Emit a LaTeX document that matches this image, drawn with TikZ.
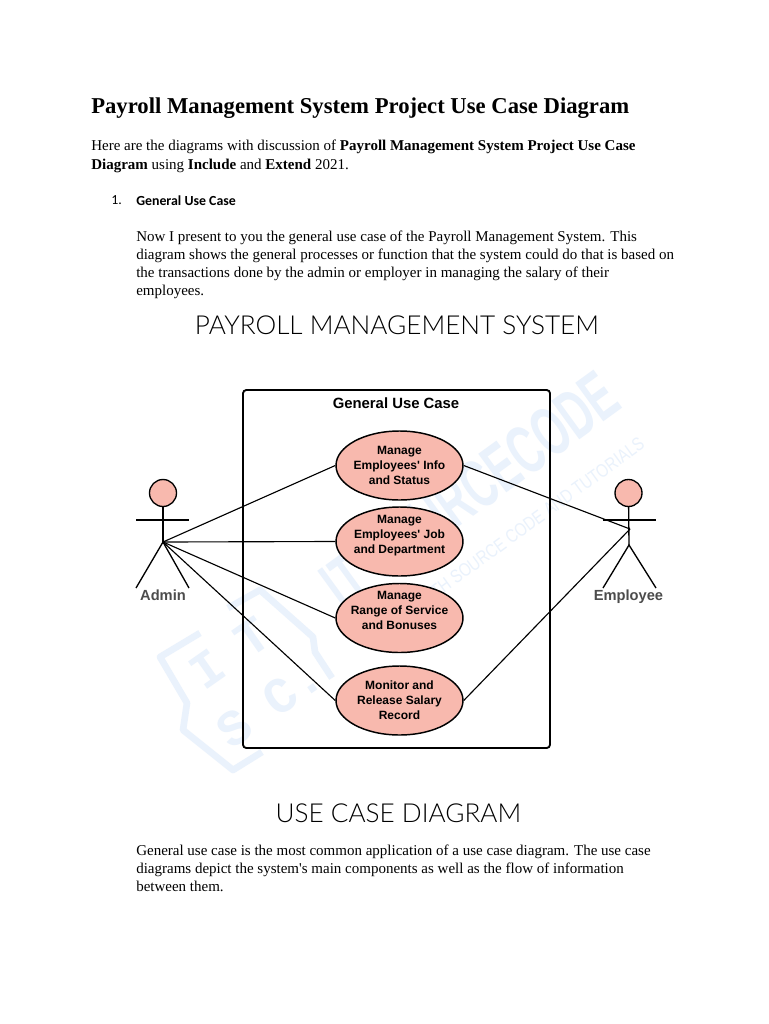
\documentclass[tikz,border=0pt]{standalone}
\usepackage{fontspec}
\setmainfont{Liberation Serif}
\setsansfont{Liberation Sans}
\setmonofont{Liberation Mono}
\newfontfamily\calibrifont{Carlito}
\newfontfamily\thinfont{Lato Light}
\usetikzlibrary{shapes.geometric}
\definecolor{peach}{HTML}{F8B9AE}
\definecolor{wmark}{HTML}{EAF2FC}
\newlength{\upx}
\setlength{\upx}{0.75pt}
\tikzset{
  usecase/.style={ellipse,draw,line width=1.1pt,fill=peach,minimum width=127\upx,minimum height=69\upx,inner xsep=-5pt,inner ysep=-8pt,align=center,font=\sffamily\bfseries\fontsize{9}{11.2}\selectfont},
  para/.style={anchor=north west,inner sep=0pt,align=left,font=\fontsize{11.25}{13.5}\selectfont},
  actorlabel/.style={font=\sffamily\bfseries\fontsize{11}{12}\selectfont,text=black!70},
  actorline/.style={line width=1pt},
  link/.style={line width=0.85pt},
  bigtitle/.style={font=\thinfont\fontsize{19.6}{24}\selectfont},
  wmarktext/.style={text=wmark,inner sep=0pt},
  wmarkline/.style={draw=wmark,line width=5pt,line join=round},
  wmarklogo/.style={wmarktext,rotate=35,font=\ttfamily\bfseries\fontsize{38}{38}\selectfont},
}
\begin{document}
\begin{tikzpicture}[x=0.75pt,y=-0.75pt]
  \useasboundingbox (0,0) rectangle (768,1024);
  \fill[white] (0,0) rectangle (768,1024);
  % watermark
  \node[wmarktext,rotate=36,xscale=.6,font=\sffamily\bfseries\fontsize{52}{52}\selectfont] (wmarka) at (470,490) {IT SOURCECODE};
  \node[wmarktext,rotate=36,xscale=.8,font=\sffamily\fontsize{14}{14}\selectfont] (wmarkb) at (530,523) {WITH SOURCE CODE AND TUTORIALS};
  \node[wmarklogo] (wmarkc) at (230,653) {I\hspace{19pt}T};
  \node[wmarklogo] (wmarkd) at (270,703) {S\hspace{19pt}C.};
  \draw[wmarkline] (200,633) -- (160,657) -- (187,703) -- (183,730) -- (233,770) -- (262,752);
  \draw[wmarkline] (228,608) -- (260,590) -- (313,637) -- (315,652) -- (332,678);
  % page text
  \node[para,font=\bfseries\fontsize{17}{20}\selectfont] (title) at (91,98) {Payroll Management System Project Use Case Diagram};
  \node[para,font=\fontsize{11.25}{14.25}\selectfont] (intro) at (91,140) {Here are the diagrams with discussion of \textbf{Payroll Management System Project Use Case}\\\textbf{Diagram} using \textbf{Include} and \textbf{Extend} 2021.};
  \node[para,font=\calibrifont\fontsize{10.4}{12}\selectfont] (num) at (111,195.5) {1.};
  \node[para,font=\calibrifont\bfseries\fontsize{10.4}{12}\selectfont] (head) at (136,195.5) {General Use Case};
  \node[para] (para1) at (136,231) {Now I present to you the general use case of the Payroll Management System. This\\diagram shows the general processes or function that the system could do that is based on\\the transactions done by the admin or employer in managing the salary of their\\employees.};
  \node[bigtitle] (systitle) at (397,325) {PAYROLL MANAGEMENT SYSTEM};
  \node[bigtitle] (diagtitle) at (398.5,813) {USE CASE DIAGRAM};
  \node[para] (para2) at (136,845) {General use case is the most common application of a use case diagram. The use case\\diagrams depict the system\textquotesingle s main components as well as the flow of information\\between them.};
  % system box
  \draw[line width=1.4pt,rounded corners=2.5pt] (243,390) rectangle (550,748);
  \node[font=\sffamily\bfseries\fontsize{11.15}{12}\selectfont] (boxtitle) at (396,403) {General Use Case};
  % use cases
  \node[usecase] (info) at (399.5,465.5) {Manage\\Employees\textquotesingle{} Info\\and Status};
  \node[usecase] (job) at (399.5,541.5) {Manage\\Employees\textquotesingle{} Job\\and Department\\\mbox{}};
  \node[usecase] (range) at (399.5,618) {Manage\\Range of Service\\and Bonuses\\\mbox{}};
  \node[usecase] (salary) at (399.5,700.5) {Monitor and\\Release Salary\\Record};
  % admin
  \node[circle,draw,actorline,fill=peach,minimum size=27\upx,inner sep=0pt] (adminhead) at (163,493) {};
  \coordinate (adminhip) at (163,542);
  \coordinate (adminl) at (136,520);
  \coordinate (adminr) at (189,520);
  \coordinate (adminfl) at (136,588);
  \coordinate (adminfr) at (189,588);
  \draw[actorline] (adminhead) -- (adminhip);
  \draw[actorline] (adminl) -- (adminr);
  \draw[actorline] (adminfl) -- (adminhip) -- (adminfr);
  \node[actorlabel] (adminlabel) at (163,595) {Admin};
  % employee
  \node[circle,draw,actorline,fill=peach,minimum size=27\upx,inner sep=0pt] (emphead) at (628.5,493) {};
  \coordinate (emphip) at (629,545);
  \coordinate (empjoin) at (630,529);
  \coordinate (empl) at (603,520);
  \coordinate (empr) at (656,520);
  \coordinate (empfl) at (603,588);
  \coordinate (empfr) at (656,588);
  \draw[actorline] (emphead) -- (emphip);
  \draw[actorline] (empl) -- (empr);
  \draw[actorline] (empfl) -- (emphip) -- (empfr);
  \node[actorlabel] (emplabel) at (628.5,597) {Employee};
  % links
  \draw[link] (adminhip) -- (info.west);
  \draw[link] (adminhip) -- (job.west);
  \draw[link] (adminhip) -- (range.west);
  \draw[link] (adminhip) -- (salary.west);
  \draw[link] (info.east) -- (empjoin);
  \draw[link] (salary.east) -- (empjoin);
\end{tikzpicture}
\end{document}
